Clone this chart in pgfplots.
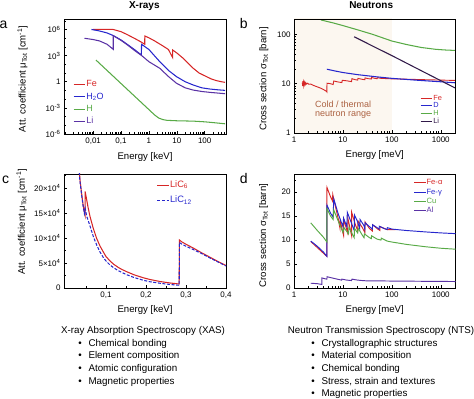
\documentclass[border=0pt]{standalone}
\usepackage{fontspec}
\setmainfont{Liberation Sans}
\usepackage{pgfplots}
\pgfplotsset{compat=1.18}
\definecolor{cRed}{RGB}{214,38,38}
\definecolor{cBlue}{RGB}{38,38,205}
\definecolor{cGreen}{RGB}{88,170,70}
\definecolor{cPurp}{RGB}{90,50,165}
\definecolor{cDark}{RGB}{48,24,72}
\definecolor{cShade}{RGB}{252,247,240}
\definecolor{cBrown}{RGB}{172,98,66}
\pgfplotsset{
  panel/.style={
    scale only axis, anchor=south west,
    axis line style={line width=0.7pt},
    tick align=inside, xtick pos=left, ytick pos=left,
    major tick length=3pt, minor tick length=1.6pt,
    tick style={black, line width=0.5pt},
    tick label style={font=\fontsize{8}{9}\selectfont},
    label style={font=\fontsize{9.6}{11}\selectfont},
    /pgf/number format/assume math mode=true,
    scaled ticks=false,
    legend cell align=left,
    legend image code/.code={\draw[##1] (0pt,0pt) -- (11.7pt,0pt);},
    every axis plot/.append style={line width=1.05pt},
  },
}
\begin{document}
\begin{tikzpicture}
\useasboundingbox (0,0) rectangle (474pt,399pt);

% ---------------- panel a ----------------
\begin{axis}[panel, at={(64pt,265pt)}, width=162pt, height=115pt,
  xmode=log, ymode=log, xmin=9e-4, xmax=580, ymin=1e-6, ymax=1.6e7,
  xtick={0.01,0.1,1,10,100}, xticklabels={{0,01},{0,1},1,10,100},
  minor xtick={0.001,0.002,0.003,0.004,0.005,0.006,0.007,0.008,0.009,0.02,0.03,0.04,0.05,0.06,0.07,0.08,0.09,0.2,0.3,0.4,0.5,0.6,0.7,0.8,0.9,2,3,4,5,6,7,8,9,20,30,40,50,60,70,80,90,200,300,400,500},
  ytick={1e-6,1e-3,1,1e3,1e6},
  yticklabels={10\textsuperscript{-6},10\textsuperscript{-3},1,10\textsuperscript{3},10\textsuperscript{6}},
  minor ytick={1e-5,1e-4,1e-2,1e-1,10,100,1e4,1e5,1e7},
  xlabel={Energy [keV]}, ylabel={Att. coefficient μ\textsubscript{Tot} [cm\textsuperscript{-1}]},
  xlabel style={at={(axis description cs:0.5,-0.2)}, anchor=center},
  ylabel style={at={(axis description cs:-0.256,0.478)}, anchor=center},
  legend style={draw=none, fill=none, at={(axis description cs:0.055,0.475)}, anchor=north west,
    inner sep=0pt, row sep=2.6pt, font=\fontsize{9}{10}\selectfont,
    nodes={inner sep=0.4pt, text height=6.8pt, text depth=2.2pt}},
]
\addplot[cRed] coordinates {(0.01,1e6) (0.025,1.05e6) (0.0525,1e6) (0.1,5.6e5) (0.158,2.8e5) (0.316,8.9e4) (0.5,4e4) (0.708,2e4)
 (0.71,1.8e5) (1,1.1e5) (1.58,5e4) (3.16,1.3e4) (5,5e3) (7.08,600)
 (7.1,4.4e3) (10,2000) (17,490) (38.9,35) (63,10) (117,3.8) (178,2) (269,1.32) (400,1) (537,0.85)};
\addlegendentry{\textcolor{cRed}{Fe}}
\addplot[cBlue] coordinates {(0.0087,1e6) (0.0158,7.1e5) (0.0316,4e5) (0.0525,2e5) (0.1,6.3e4) (0.158,2.24e4) (0.316,4470) (0.537,1175)
 (0.543,2e4) (1,5000) (2.45,200) (5,20) (9.8,3.8) (20,1) (38.9,0.42) (79,0.2) (155,0.145) (300,0.118) (537,0.102)};
\addlegendentry{\textcolor{cBlue}{H\textsubscript{2}O}}
\addplot[cGreen] coordinates {(0.0126,309) (0.1,0.62) (1,6.3e-4) (1.58,1.58e-4) (2.24,6.8e-5) (3.16,4.5e-5) (4.47,3.7e-5) (10,3.3e-5) (38.9,3.0e-5) (100,2.5e-5) (251,1.9e-5) (537,1.48e-5)};
\addlegendentry{\textcolor{cGreen}{H}}
\addplot[cPurp] coordinates {(0.0049,9.8e4) (0.01,7e4) (0.017,4.8e4) (0.0316,2e4) (0.0525,5200)
 (0.0526,1.95e5) (0.1,5.6e4) (0.158,2e4) (0.316,3550) (0.55,1000) (1,200) (2.45,35) (5,4) (9.8,0.66) (20,0.2) (38.9,0.11) (79,0.076) (155,0.06) (300,0.05) (537,0.042)};
\addlegendentry{\textcolor{cPurp}{Li}}
\end{axis}

% ---------------- panel b ----------------
\begin{axis}[panel, at={(294pt,266pt)}, width=161.5pt, height=114pt,
  xmode=log, xmin=1, xmax=2000,
  xtick={1,10,100,1000}, xticklabels={1,10,100,1000},
  minor xtick={2,3,4,5,6,7,8,9,20,30,40,50,60,70,80,90,200,300,400,500,600,700,800,900},
  xlabel={Energy [meV]},
  xlabel style={at={(axis description cs:0.5,-0.195)}, anchor=center},
  ymode=log, ymin=1, ymax=204, axis on top,
  ytick={1,10,100}, yticklabels={1,10,100},
  minor ytick={2,3,4,5,6,7,8,9,20,30,40,50,60,70,80,90,200},
  ylabel={Cross section σ\textsubscript{Tot} [barn]},
  ylabel style={at={(axis description cs:-0.186,0.474)}, anchor=center},
  legend style={draw=none, fill=none, at={(axis description cs:0.78,0.338)}, anchor=north west,
    inner sep=0pt, row sep=0.8pt, font=\fontsize{7.4}{8}\selectfont,
    nodes={inner sep=0.4pt, text height=5pt, text depth=1.1pt}},
]
\addplot[fill=cShade, draw=none, forget plot] coordinates {(1,1) (1,300) (100,300) (100,1)} -- cycle;
\node[font=\fontsize{9}{9.4}\selectfont, text=cBrown, align=center] at (axis cs:10.1,3.0) {Cold / thermal\\neutron range};
\addplot[cRed, line width=0.9pt] coordinates {(1.48,10.5) (1.5,9.0) (1.52,11.2) (1.55,9.3) (1.58,10.9) (1.62,9.5) (1.66,10.6) (1.7,9.6) (1.75,10.4) (1.8,9.8) (1.9,10.2) (2.0,9.7) (2.2,9.8) (2.5,9.2) (3.0,8.6) (3.5,8.1) (4.0,7.6) (4.6,7.0) (4.7,6.8)
 (4.72,10.2) (5.5,10.0) (6.3,9.6) (6.5,11.3) (8,10.8) (9.5,10.5) (9.7,11.7) (12,11.4) (15,11.0) (15.3,12.6) (18,12.0) (20,11.8) (20.3,12.8) (24,12.3) (28,12.0) (28.3,13.1) (33,12.6) (38,12.4) (38.5,13.3) (45,12.8) (50,12.6) (50.5,13.2) (60,12.8) (70,12.7) (100,12.5) (200,12.3) (500,12.0) (1000,11.8) (2000,11.6)};
\addlegendentry{\textcolor{cRed}{Fe}}
\addplot[cBlue] coordinates {(4.7,19.6) (7,18.0) (10,16.8) (20,15.2) (50,13.7) (100,12.8) (300,11.8) (1000,10.9) (2000,10.4)};
\addlegendentry{\textcolor{cBlue}{D}}
\addplot[cGreen] coordinates {(3.55,195) (6.3,170) (10,150) (20,123) (40,100) (100,73) (200,62) (400,54) (800,49.5) (1260,48) (2000,47)};
\addlegendentry{\textcolor{cGreen}{H}}
\addplot[cDark] coordinates {(17,89) (50,52) (100,37) (200,26) (500,16.3) (1000,11.5) (2000,8.1)};
\addlegendentry{\textcolor{cDark}{Li}}
\end{axis}

% ---------------- panel c ----------------
\begin{axis}[panel, at={(64pt,111pt)}, width=162pt, height=114pt,
  xmin=-0.005, xmax=0.4, ymin=0, ymax=22.8e4,
  xtick={0.1,0.2,0.3,0.4}, xticklabels={{0,1},{0,2},{0,3},{0,4}},
  minor xtick={0.05,0.15,0.25,0.35},
  ytick={0,5e4,10e4,15e4,20e4},
  yticklabels={0,5×10\textsuperscript{4},10×10\textsuperscript{4},15×10\textsuperscript{4},20×10\textsuperscript{4}},
  minor ytick={2.5e4,7.5e4,12.5e4,17.5e4,22.5e4},
  xlabel={Energy [keV]}, ylabel={Att. coefficient μ\textsubscript{Tot} [cm\textsuperscript{-1}]},
  xlabel style={at={(axis description cs:0.5,-0.195)}, anchor=center},
  ylabel style={at={(axis description cs:-0.261,0.58)}, anchor=center},
  legend style={draw=none, fill=none, at={(axis description cs:0.572,0.95)}, anchor=north west,
    inner sep=0pt, row sep=5pt, font=\fontsize{9.3}{10}\selectfont,
    nodes={inner sep=0.4pt, text height=7pt, text depth=2.5pt}},
]
\addplot[cRed] coordinates {(0.032,25e4) (0.035,21.6e4) (0.04,18.3e4) (0.043,16.5e4) (0.046,15.1e4) (0.0475,14.6e4)
 (0.0478,19.3e4) (0.05,18.4e4) (0.055,16.2e4) (0.06,14.3e4) (0.0683,11.9e4) (0.0767,9.9e4) (0.085,8.4e4) (0.0933,7.2e4) (0.1,6.3e4) (0.11,5.4e4) (0.12,4.7e4) (0.131,4.1e4) (0.14,3.7e4) (0.152,3.25e4) (0.17,2.65e4) (0.193,2.05e4) (0.21,1.7e4) (0.235,1.3e4) (0.26,1.0e4) (0.283,0.8e4)
 (0.2835,9.6e4) (0.29,9.2e4) (0.3,8.75e4) (0.318,8.0e4) (0.34,7.0e4) (0.36,6.15e4) (0.38,5.3e4) (0.4,4.5e4)};
\addlegendentry{\textcolor{cRed}{LiC\textsubscript{6}}}
\addplot[cBlue, dash pattern=on 3pt off 1.6pt] coordinates {(0.031,25e4) (0.035,21.3e4) (0.04,18.0e4) (0.043,16.3e4) (0.046,14.9e4) (0.048,15.9e4) (0.052,14.3e4) (0.06,12.4e4) (0.0683,10.3e4) (0.0767,8.6e4) (0.085,7.2e4) (0.0933,6.1e4) (0.1,5.4e4) (0.11,4.6e4) (0.12,4.0e4) (0.131,3.45e4) (0.14,3.1e4) (0.152,2.65e4) (0.17,2.1e4) (0.193,1.55e4) (0.21,1.25e4) (0.235,0.95e4) (0.26,0.7e4) (0.283,0.55e4)
 (0.2835,9.1e4) (0.29,8.75e4) (0.3,8.35e4) (0.318,7.7e4) (0.34,6.85e4) (0.36,6.0e4) (0.38,5.2e4) (0.4,4.4e4)};
\addlegendentry{\textcolor{cBlue}{LiC\textsubscript{12}}}
\end{axis}

% ---------------- panel d ----------------
\begin{axis}[panel, at={(294pt,111pt)}, width=161.5pt, height=114pt,
  xmode=log, xmin=1, xmax=2000,
  xtick={1,10,100,1000}, xticklabels={1,10,100,1000},
  minor xtick={2,3,4,5,6,7,8,9,20,30,40,50,60,70,80,90,200,300,400,500,600,700,800,900},
  xlabel={Energy [meV]},
  xlabel style={at={(axis description cs:0.5,-0.195)}, anchor=center},
  ymin=0, ymax=23.8,
  ytick={0,5,10,15,20}, yticklabels={0,5,10,15,20},
  minor ytick={2.5,7.5,12.5,17.5,22.5},
  ylabel={Cross section σ\textsubscript{Tot} [barn]},
  ylabel style={at={(axis description cs:-0.188,0.46)}, anchor=center},
  legend style={draw=none, fill=none, at={(axis description cs:0.739,0.96)}, anchor=north west,
    inner sep=0pt, row sep=1.5pt, font=\fontsize{7.6}{8}\selectfont,
    nodes={inner sep=0.4pt, text height=5.5pt, text depth=1.6pt}},
]
\addplot[cRed, line width=0.95pt] coordinates {(2.2,9.7) (4.7,6.6) (4.72,21.0) (5.5,19.2) (6.1,18.2) (6.2,19.5) (8.0,14.5) (8.7,12.5) (8.8,14.0) (10.3,11.0) (10.4,14.3) (12.5,11.5) (12.6,14.6) (15.0,11.0) (15.1,15.8) (18,13.2) (20,12.0) (20.3,14.0) (25,12.6) (28,11.6) (28.3,13.8) (35,12.4) (40,11.9) (40.3,13.2) (50,12.4) (57,12.0) (57.3,12.8) (80,12.2) (120,12.2)};
\addlegendentry{\textcolor{cRed}{Fe-α}}
\addplot[cBlue, line width=0.95pt] coordinates {(2.2,9.8) (3.0,8.7) (4.0,7.5) (4.7,6.6) (4.72,17.3) (5.6,15.6) (6.3,14.8) (6.5,18.6) (8.0,15.5) (10.0,12.8) (10.3,14.6) (12.0,12.8) (12.3,15.8) (15,13.5) (17,12.0) (17.3,15.2) (20,13.8) (22,12.4) (22.4,14.3) (27,13.0) (28,12.3) (28.5,13.6) (35,12.8) (40,12.3) (40.5,13.2) (50,12.6) (55,12.3) (55.5,12.9) (70,12.4) (80,12.2) (81,12.6) (100,12.3) (200,12.0) (500,11.7) (1000,11.5) (2000,11.35)};
\addlegendentry{\textcolor{cBlue}{Fe-γ}}
\addplot[cGreen, line width=0.95pt] coordinates {(2.2,13.6) (3.0,12.0) (4.0,10.6) (4.7,9.6) (4.72,16.6) (5.6,15.0) (6.3,14.3) (6.5,16.3) (8.0,14.0) (10.0,11.6) (10.5,12.6) (13.0,11.3) (13.3,12.7) (16.0,11.0) (17.0,10.5) (17.3,12.4) (20.0,11.5) (20.4,12.5) (25.0,11.0) (27.0,10.5) (27.5,11.3) (35.0,10.5) (38,10.3) (38.5,10.9) (50,10.2) (60,10.0) (61,10.4) (80,9.8) (100,9.6) (200,9.1) (500,8.6) (1000,8.3) (2000,8.1)};
\addlegendentry{\textcolor{cGreen}{Cu}}
\addplot[cPurp, line width=0.95pt] coordinates {(2.2,1.0) (3.0,0.9) (3.7,0.75) (3.72,2.1) (4.4,1.9) (4.7,1.85) (4.75,2.35) (6,2.1) (8,1.8) (9.4,1.65) (9.5,1.85) (12,1.65) (15,1.55) (15.3,1.85) (20,1.65) (25,1.55) (30,1.5) (40,1.5) (100,1.45) (2000,1.35)};
\addlegendentry{\textcolor{cPurp}{Al}}
\end{axis}

% ---------------- titles, letters, text ----------------
\node[font=\bfseries\fontsize{10}{12}\selectfont, anchor=base, inner sep=0pt] at (144.3pt,390pt) {X-rays};
\node[font=\bfseries\fontsize{10}{12}\selectfont, anchor=base, inner sep=0pt] at (371.2pt,390pt) {Neutrons};
\node[font=\fontsize{14}{16}\selectfont, anchor=base, inner sep=0pt] at (3.6pt,370pt) {a};
\node[font=\fontsize{14}{16}\selectfont, anchor=base, inner sep=0pt] at (243.7pt,370pt) {b};
\node[font=\fontsize{14}{16}\selectfont, anchor=base, inner sep=0pt] at (5.5pt,215pt) {c};
\node[font=\fontsize{14}{16}\selectfont, anchor=base, inner sep=0pt] at (243.7pt,215pt) {d};

\begin{scope}[every node/.style={font=\fontsize{9.8}{12}\selectfont, inner sep=0pt}]
\node[anchor=base] at (143pt,65.5pt) {X-ray Absorption Spectroscopy (XAS)};
\foreach \t [count=\i] in {Chemical bonding, Element composition, Atomic configuration, Magnetic properties} {
  \node[anchor=base] at (80pt,{65.5pt-12.7pt*\i}) {•};
  \node[anchor=base west] at (88.3pt,{65.5pt-12.7pt*\i}) {\t};
}
\node[anchor=base] at (381pt,65.5pt) {Neutron Transmission Spectroscopy (NTS)};
\foreach \t [count=\i] in {Crystallographic structures, Material composition, Chemical bonding, {Stress, strain and textures}, Magnetic properties} {
  \node[anchor=base] at (313pt,{65.5pt-12.7pt*\i}) {•};
  \node[anchor=base west] at (321.3pt,{65.5pt-12.7pt*\i}) {\t};
}
\end{scope}
\end{tikzpicture}
\end{document}
